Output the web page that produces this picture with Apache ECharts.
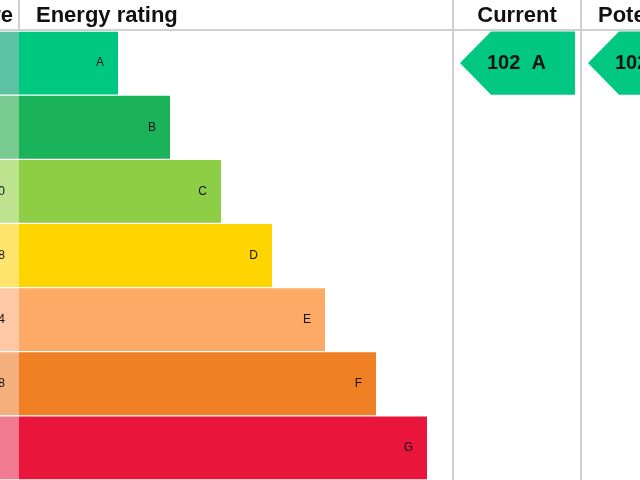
<!DOCTYPE html><html><head><meta charset="utf-8">
<script src="https://cdn.jsdelivr.net/npm/echarts@6/dist/echarts.min.js"></script>
<style>html,body{margin:0;padding:0;background:#fff}#c{width:640px;height:480px}</style></head><body><div id="c"></div>
<script>
const bands=['A','B','C','D','E','F','G'];
const barLengths=[99,151,202,253,306,357,408];
const bandColors=['#00c781','#1bb35a','#8dce46','#ffd500','#fcaa65','#ef8023','#e9153b'];
const stripColors=['#5cc4a2','#79cb91','#bde38f','#ffe46d','#fdc9a4','#f4b07c','#f27a90'];
const scoreRanges=['92+','81-91','69-80','55-68','39-54','21-38','1-20'];
const currentScore=102, currentBand='A';
const potentialScore=102, potentialBand='A';
const F='"Liberation Sans", Arial, sans-serif';
const chart=echarts.init(document.getElementById('c'));
const cat={type:'category',data:bands,inverse:true,axisLine:{show:false},axisTick:{show:false},axisLabel:{show:false}};
function arrow(x0,x1,score,band){
  return {type:'custom',xAxisIndex:0,yAxisIndex:0,silent:true,
    data:[[0,bands.indexOf(band)]],
    renderItem:(p,api)=>{const c=api.coord([0,api.value(1)]);const h=api.size([0,1])[1];
      const t=c[1]-h/2+0.5,b=c[1]+h/2-0.5;
      return {type:'group',children:[
        {type:'polygon',shape:{points:[[x0,c[1]],[x0+31,t],[x1,t],[x1,b],[x0+31,b]]},style:{fill:bandColors[bands.indexOf(band)]}},
        {type:'text',style:{text:score+'  '+band,x:x0+27,y:c[1],fill:'#111',font:'bold 20px '+F,verticalAlign:'middle'}}]};}};
}
chart.setOption({animation:false,
 grid:[{left:19,top:31,right:0,bottom:0},{left:0,top:31,width:19,bottom:0}],
 xAxis:[{type:'value',min:0,max:621,show:false,gridIndex:0},{type:'value',min:0,max:1,show:false,gridIndex:1}],
 yAxis:[Object.assign({gridIndex:0},cat),Object.assign({gridIndex:1},cat)],
 series:[
  {type:'bar',xAxisIndex:0,yAxisIndex:0,barCategoryGap:'2%',data:barLengths.map((v,i)=>({value:v,itemStyle:{color:bandColors[i]}})),
   label:{show:true,position:'insideRight',distance:14,formatter:p=>bands[p.dataIndex],color:'#111',font:'bold 42px '+F}},
  {type:'bar',xAxisIndex:1,yAxisIndex:1,barCategoryGap:'2%',data:stripColors.map(c=>({value:1,itemStyle:{color:c}})),
   label:{show:true,position:'insideRight',distance:14,formatter:p=>(p.dataIndex>=2&&p.dataIndex<=5)?scoreRanges[p.dataIndex]:'',color:'#111',font:'bold 20px '+F}},
  arrow(460,575,currentScore,currentBand),
  arrow(588,703,potentialScore,potentialBand)
 ],
 graphic:[
  {type:'line',shape:{x1:0,y1:30,x2:640,y2:30},style:{stroke:'#d0d0d0',lineWidth:2},z:10},
  {type:'line',shape:{x1:19,y1:0,x2:19,y2:30},style:{stroke:'#d0d0d0',lineWidth:2},z:10},
  {type:'line',shape:{x1:453,y1:0,x2:453,y2:480},style:{stroke:'#d0d0d0',lineWidth:2},z:10},
  {type:'line',shape:{x1:581,y1:0,x2:581,y2:480},style:{stroke:'#d0d0d0',lineWidth:2},z:10},
  {type:'text',style:{text:'Score',x:13,y:16,align:'right',verticalAlign:'middle',font:'bold 22px '+F,fill:'#111'}},
  {type:'text',style:{text:'Energy rating',x:36,y:16,verticalAlign:'middle',font:'bold 22px '+F,fill:'#111'}},
  {type:'text',style:{text:'Current',x:517,y:16,align:'center',verticalAlign:'middle',font:'bold 22px '+F,fill:'#111'}},
  {type:'text',style:{text:'Potential',x:598,y:16,verticalAlign:'middle',font:'bold 22px '+F,fill:'#111'}}
 ]});
</script></body></html>
